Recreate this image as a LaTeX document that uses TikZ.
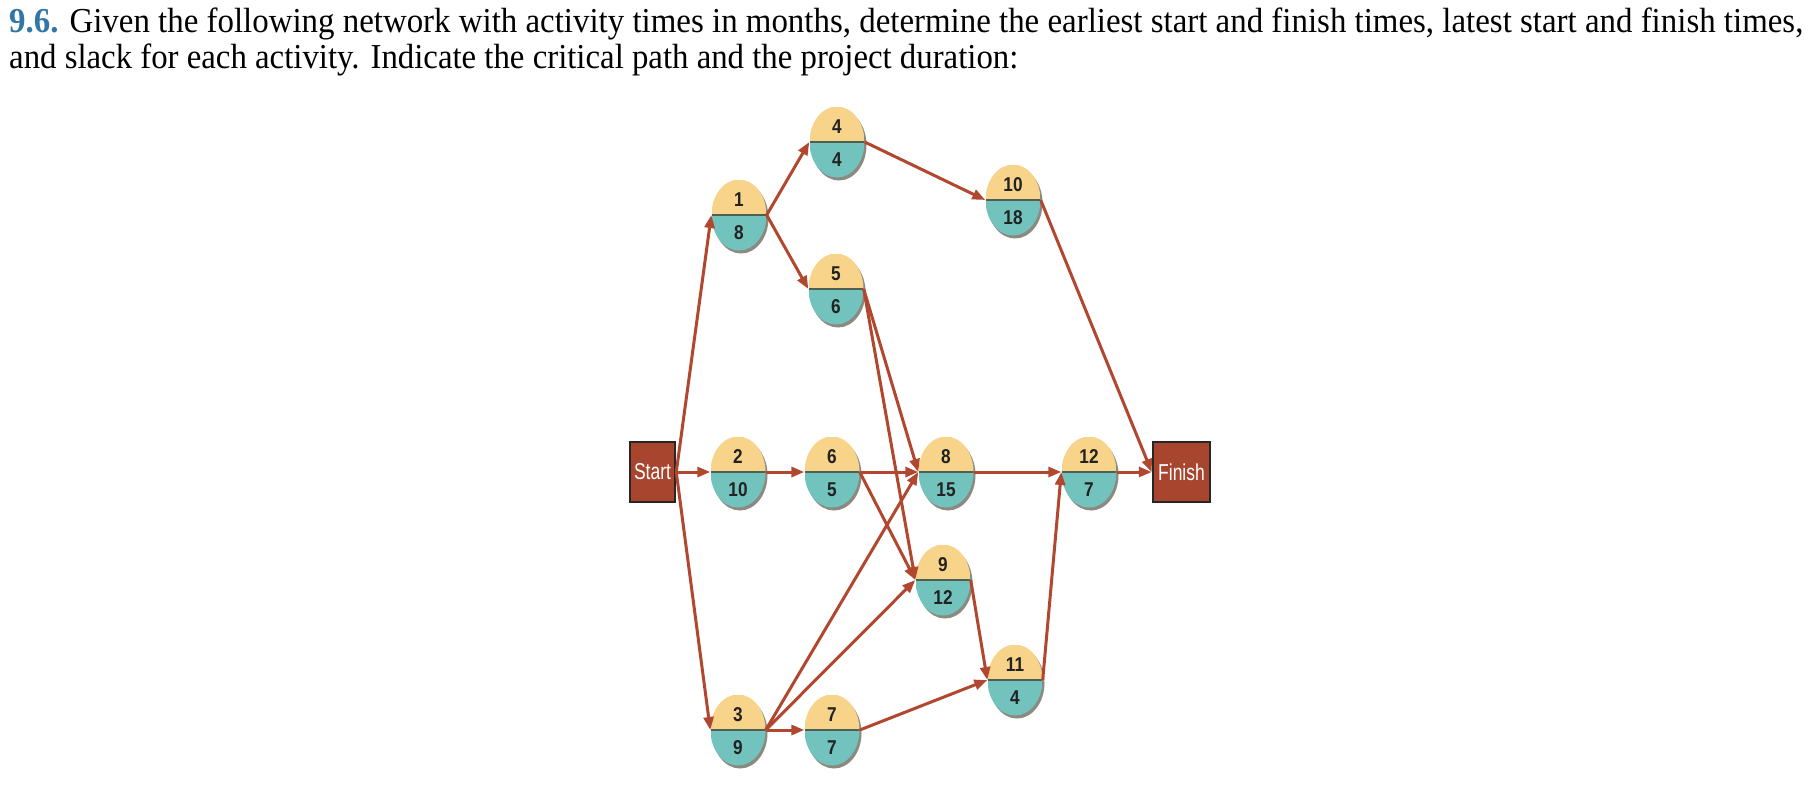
\documentclass[tikz,border=0pt]{standalone}
\usepackage{fontspec}
\setmainfont{Liberation Serif}
\newfontfamily\numfont{Liberation Sans}
\usetikzlibrary{arrows.meta,shapes.geometric}
\definecolor{arrowc}{HTML}{B2472F}
\definecolor{boxc}{HTML}{A8452F}
\definecolor{topc}{HTML}{F7D48A}
\definecolor{botc}{HTML}{72C2BD}
\definecolor{divc}{HTML}{4F5F52}
\definecolor{titleblue}{HTML}{3276A6}
\definecolor{numc}{HTML}{222222}
\definecolor{shadowc}{HTML}{8A8A80}
\tikzset{
  act/.style 2 args={ellipse, minimum width=55pt, minimum height=71pt, inner sep=0pt,
    path picture={
      \fill[topc] (path picture bounding box.north west) rectangle (path picture bounding box.east);
      \fill[botc] (path picture bounding box.west) rectangle (path picture bounding box.south east);
      \draw[divc, line width=1.6pt] (path picture bounding box.west) -- (path picture bounding box.east);
      \node[numlab] at ([yshift=15pt]path picture bounding box.center) {#1};
      \node[numlab] at ([yshift=-18pt]path picture bounding box.center) {#2};
    }},
  numlab/.style={inner sep=0pt, text=numc, font=\numfont\bfseries\fontsize{20}{20}\selectfont},
  shade/.style={fill=shadowc, shift={(2pt,-3pt)}},
  endbox/.style={draw=black!85, line width=2.5pt, fill=boxc, inner sep=0pt,
    text=white, font=\numfont\fontsize{23}{23}\selectfont},
  conn/.style={draw=arrowc, line width=3pt, -{Triangle[length=13pt,width=10pt]}},
}
\newcommand{\nm}[1]{\scalebox{0.86}[1]{#1}}
\newcommand{\actnode}[4]{%
  \fill[shade] (#2) ellipse [x radius=27.5pt, y radius=35.5pt];
  \node[act={\nm{#3}}{\nm{#4}}] (#1) at (#2) {};}
\begin{document}
\begin{tikzpicture}[x=1pt,y=-1pt]
\useasboundingbox[fill=white] (0,0) rectangle (1810,788);
% title
\node[anchor=base west, inner sep=0pt, font=\fontsize{35}{40}\selectfont] (t1) at (9,32)
  {\resizebox{1794pt}{\height}{\textcolor{titleblue}{\textbf{9.6.}} Given the following network with activity times in months, determine the earliest start and finish times, latest start and finish times,}};
\node[anchor=base west, inner sep=0pt, font=\fontsize{35}{40}\selectfont] (t2) at (9,68)
  {\resizebox{1009pt}{\height}{and slack for each activity. Indicate the critical path and the project duration:}};
% nodes
\node[endbox, minimum width=45pt, minimum height=60pt] (start) at (652.5,472) {\scalebox{0.76}[1]{Start}};
\node[endbox, minimum width=57pt, minimum height=60pt] (finish) at (1181.5,472) {\scalebox{0.76}[1]{Finish}};
\actnode{n1}{739,215}{1}{8}
\actnode{n4}{837,142}{4}{4}
\actnode{n5}{836,289}{5}{6}
\actnode{n10}{1013,200}{10}{18}
\actnode{n2}{738,472}{2}{10}
\actnode{n6}{832,472}{6}{5}
\actnode{n8}{946,472}{8}{15}
\actnode{n9}{943,580}{9}{12}
\actnode{n11}{1015,680}{11}{4}
\actnode{n3}{738,730}{3}{9}
\actnode{n7}{832,730}{7}{7}
\actnode{n12}{1089,472}{12}{7}
% connectors
\draw[conn] (start.east) -- (n1.west);
\draw[conn] (start.east) -- (n2.west);
\draw[conn] (start.east) -- (n3.west);
\draw[conn] (n1.east) -- (n4.west);
\draw[conn] (n1.east) -- (n5.west);
\draw[conn] (n4.east) -- (n10.west);
\draw[conn] (n5.east) -- (n8.west);
\draw[conn] (n5.east) -- (n9.west);
\draw[conn] (n2.east) -- (n6.west);
\draw[conn] (n6.east) -- (n8.west);
\draw[conn] (n6.east) -- (n9.west);
\draw[conn] (n3.east) -- (n8.west);
\draw[conn] (n3.east) -- (n9.west);
\draw[conn] (n3.east) -- (n7.west);
\draw[conn] (n7.east) -- (n11.west);
\draw[conn] (n9.east) -- (n11.west);
\draw[conn] (n8.east) -- (n12.west);
\draw[conn] (n11.east) -- (n12.west);
\draw[conn] (n10.east) -- (finish.west);
\draw[conn] (n12.east) -- (finish.west);
\end{tikzpicture}
\end{document}
